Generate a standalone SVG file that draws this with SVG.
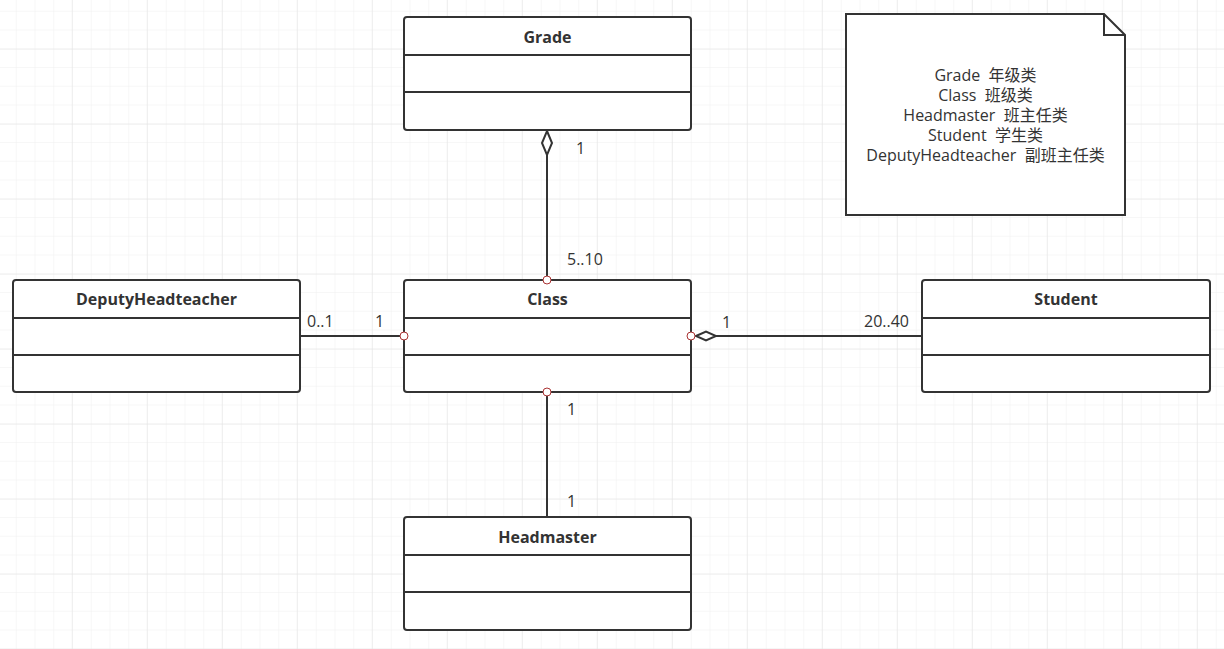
<svg xmlns="http://www.w3.org/2000/svg" width="1224" height="649" viewBox="0 0 1224 649">
<defs>
<pattern id="minor" x="-2" y="-7" width="18.75" height="18.75" patternUnits="userSpaceOnUse">
<path d="M18.75 0V18.75M0 18.75H18.75" fill="none" stroke="#f0f0f0" stroke-width="1"/>
</pattern>
<pattern id="major" x="-2.3" y="-25.3" width="75" height="75" patternUnits="userSpaceOnUse">
<path d="M75 0V75M0 75H75" fill="none" stroke="#e3e3e3" stroke-width="1"/>
</pattern>
</defs>
<style>
.box{fill:#fff;stroke:#333;stroke-width:2}
.sep{stroke:#333;stroke-width:2}
.title{font-family:"Open Sans","Noto Sans","Liberation Sans",sans-serif;font-weight:bold;font-size:16px;fill:#333;text-anchor:middle}
.lbl{font-family:"Open Sans","Noto Sans","Liberation Sans",sans-serif;font-size:16px;fill:#333}
.note{font-family:"Open Sans","Noto Sans","Liberation Sans","Noto Sans CJK SC",sans-serif;font-size:16px;fill:#333;text-anchor:middle;white-space:pre}
.edge{stroke:#333;stroke-width:2;fill:none}
.dia{fill:#fff;stroke:#333;stroke-width:2}
.pt{fill:#fff;stroke:#a33;stroke-width:1}
</style>
<rect width="1224" height="649" fill="#fff"/>
<rect width="1224" height="649" fill="url(#minor)"/>
<rect width="1224" height="649" fill="url(#major)"/>

<g id="connectors">
<line class="edge" x1="547" y1="155" x2="547" y2="280"/>
<path class="dia" d="M547 131 L552 143 L547 155 L542 143 Z"/>
<line class="edge" x1="300" y1="336" x2="404" y2="336"/>
<line class="edge" x1="715" y1="336" x2="922" y2="336"/>
<path class="dia" d="M696 336 L706 331.5 L716 336 L706 340.5 Z"/>
<line class="edge" x1="547" y1="392" x2="547" y2="517"/>
<text class="lbl" x="576" y="154">1</text>
<text class="lbl" x="567" y="265">5..10</text>
<text class="lbl" x="307" y="327">0..1</text>
<text class="lbl" x="375" y="327">1</text>
<text class="lbl" x="722" y="328">1</text>
<text class="lbl" x="864" y="327">20..40</text>
<text class="lbl" x="567" y="415">1</text>
<text class="lbl" x="567" y="507">1</text>
</g>

<g id="Grade">
<rect class="box" x="404" y="17" width="287" height="113" rx="3"/>
<line class="sep" x1="404" y1="55" x2="691" y2="55"/>
<line class="sep" x1="404" y1="92" x2="691" y2="92"/>
<text class="title" x="547.5" y="43">Grade</text>
</g>

<g id="Class">
<rect class="box" x="404" y="280" width="287" height="112" rx="3"/>
<line class="sep" x1="404" y1="318" x2="691" y2="318"/>
<line class="sep" x1="404" y1="355" x2="691" y2="355"/>
<text class="title" x="547.5" y="305">Class</text>
<circle class="pt" cx="547" cy="280" r="4"/>
<circle class="pt" cx="404" cy="336" r="4"/>
<circle class="pt" cx="691" cy="336" r="4"/>
<circle class="pt" cx="547" cy="392" r="4"/>
</g>

<g id="DeputyHeadteacher">
<rect class="box" x="13" y="280" width="287" height="112" rx="3"/>
<line class="sep" x1="13" y1="318" x2="300" y2="318"/>
<line class="sep" x1="13" y1="355" x2="300" y2="355"/>
<text class="title" x="156.5" y="305">DeputyHeadteacher</text>
</g>

<g id="Student">
<rect class="box" x="922" y="280" width="288" height="112" rx="3"/>
<line class="sep" x1="922" y1="318" x2="1210" y2="318"/>
<line class="sep" x1="922" y1="355" x2="1210" y2="355"/>
<text class="title" x="1066" y="305">Student</text>
</g>

<g id="Headmaster">
<rect class="box" x="404" y="517" width="287" height="113" rx="3"/>
<line class="sep" x1="404" y1="555" x2="691" y2="555"/>
<line class="sep" x1="404" y1="592" x2="691" y2="592"/>
<text class="title" x="547.5" y="543">Headmaster</text>
</g>

<g id="Note">
<path class="box" d="M846 14 H1104 L1125 35 V215 H846 Z"/>
<path class="edge" d="M1104 14 V35 H1125"/>
<text class="note" x="985.5" y="81" xml:space="preserve">Grade  年级类</text>
<text class="note" x="985.5" y="101" xml:space="preserve">Class  班级类</text>
<text class="note" x="985.5" y="121" xml:space="preserve">Headmaster  班主任类</text>
<text class="note" x="985.5" y="141" xml:space="preserve">Student  学生类</text>
<text class="note" x="985.5" y="161" xml:space="preserve">DeputyHeadteacher  副班主任类</text>
</g>
</svg>
